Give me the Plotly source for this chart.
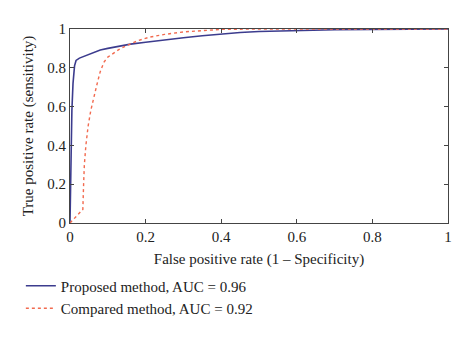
import plotly.graph_objects as go

# Proposed method ROC
prop_fpr = [0, 0.002, 0.003, 0.005, 0.008, 0.012, 0.016, 0.025, 0.04, 0.06, 0.08, 0.1, 0.13, 0.16, 0.2, 0.25, 0.3, 0.35, 0.4, 0.45, 0.5, 0.6, 0.7, 0.8, 0.9, 1.0]
prop_tpr = [0, 0.15, 0.35, 0.58, 0.72, 0.81, 0.838, 0.85, 0.862, 0.88, 0.892, 0.9, 0.912, 0.922, 0.932, 0.945, 0.955, 0.965, 0.975, 0.982, 0.987, 0.993, 0.996, 0.998, 0.999, 1.0]

# Compared method ROC
comp_fpr = [0, 0.01, 0.025, 0.034, 0.036, 0.038, 0.042, 0.048, 0.055, 0.064, 0.072, 0.08, 0.09, 0.1, 0.115, 0.13, 0.15, 0.18, 0.21, 0.25, 0.3, 0.35, 0.4, 0.5, 0.6, 0.8, 1.0]
comp_tpr = [0, 0.02, 0.05, 0.07, 0.2, 0.3, 0.4, 0.5, 0.58, 0.66, 0.72, 0.78, 0.83, 0.855, 0.875, 0.895, 0.915, 0.94, 0.958, 0.972, 0.985, 0.993, 0.998, 1.0, 1.0, 1.0, 1.0]

labels = ["Proposed method, AUC = 0.96", "Compared method, AUC = 0.92"]
x_ticks = [0, 0.2, 0.4, 0.6, 0.8, 1]
y_ticks = [0, 0.2, 0.4, 0.6, 0.8, 1]

font = "Liberation Serif, Times New Roman, serif"

fig = go.Figure()
fig.add_trace(go.Scatter(x=prop_fpr, y=prop_tpr, mode="lines", name=labels[0],
                         line=dict(color="#3c3c8e", width=1.6)))
fig.add_trace(go.Scatter(x=comp_fpr, y=comp_tpr, mode="lines", name=labels[1],
                         line=dict(color="#f26a4f", width=1.4, dash="dot")))

axis_common = dict(showline=True, mirror="ticks", linecolor="#444", linewidth=1.2,
                   ticks="inside", ticklen=4, tickcolor="#444", showgrid=False, zeroline=False,
                   tickfont=dict(family=font, size=15, color="#222"))

fig.update_layout(
    width=474, height=341,
    margin=dict(l=70, r=26, t=29, b=118),
    paper_bgcolor="white", plot_bgcolor="white",
    font=dict(family=font, size=15, color="#222"),
    xaxis=dict(range=[0, 1], tickvals=x_ticks, ticktext=[str(v) for v in x_ticks],
               title=dict(text="False positive rate (1 \u2013 Specificity)", standoff=9,
                          font=dict(family=font, size=15)), **axis_common),
    yaxis=dict(range=[0, 1], tickvals=y_ticks, ticktext=[str(v) for v in y_ticks],
               title=dict(text="True positive rate (sensitivity)", standoff=9,
                          font=dict(family=font, size=15)), **axis_common),
    showlegend=True,
    legend=dict(x=-0.13, y=-0.24, xanchor="left", yanchor="top", bgcolor="rgba(0,0,0,0)",
                font=dict(family=font, size=15), tracegroupgap=0, itemwidth=30),
)

fig.write_html("out.html")
